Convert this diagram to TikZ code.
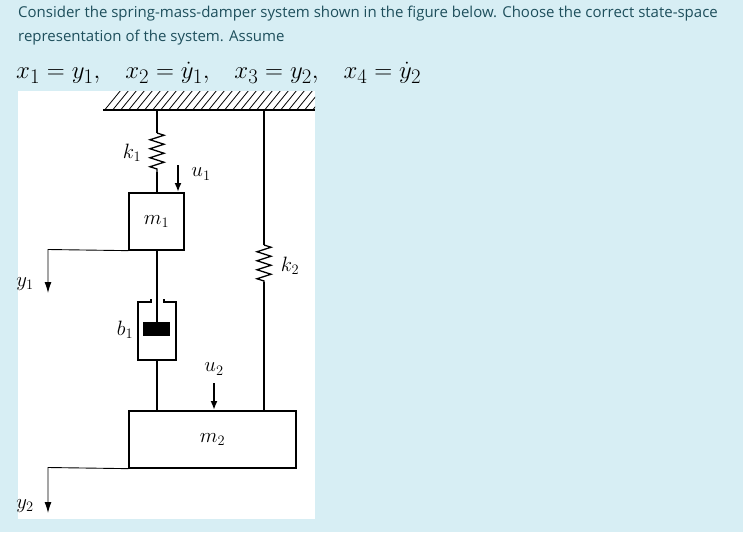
\documentclass[tikz,border=0pt]{standalone}
\usepackage{fontspec}
\setmainfont{Open Sans}
\usetikzlibrary{patterns,decorations.pathmorphing,arrows.meta}
\definecolor{bg}{HTML}{D7EEF4}
\definecolor{txt}{HTML}{1E4F5C}
\begin{document}
\begin{tikzpicture}[x=1pt,y=-1pt,
  wire/.style={line width=1.3pt},
  spring/.style={line width=1.3pt,decorate,decoration={zigzag,segment length=9pt,amplitude=7pt}},
  arr/.style={line width=2pt,-{Latex[length=9pt,width=7pt]}},
  thin/.style={line width=0.9pt,-{Latex[length=11pt,width=7pt]}},
  lab/.style={font=\fontsize{21}{21}\selectfont}]
\useasboundingbox (0,0) rectangle (743,532);
\fill[bg] (0,0) rectangle (743,532);
\fill[white] (18,91) rectangle (315,519);
\node[anchor=west,text=txt,font=\fontsize{15}{16}\selectfont,inner sep=0] (t1) at (18,14) {Consider the spring-mass-damper system shown in the figure below. Choose the correct state-space};
\node[anchor=west,text=txt,font=\fontsize{15}{16}\selectfont,inner sep=0] (t2) at (18,38) {representation of the system. Assume};
\node[anchor=west,font=\fontsize{29}{29}\selectfont,inner sep=0] (t3) at (16,73) {$x_1=y_1,\;\;\; x_2=\dot y_1,\;\;\; x_3=y_2,\;\;\; x_4=\dot y_2$};
% ceiling
\begin{scope}
\clip (103,92) rectangle (315,110);
\foreach \i in {0,8,...,230} \draw[line width=0.8pt] (103+\i,112) -- (121+\i,90);
\end{scope}
\draw[wire] (103,110) -- (315,110);
\coordinate (c1) at (157,110);
\coordinate (c2) at (264,110);
% masses
\node[draw,line width=1.3pt,minimum width=55pt,minimum height=57pt,inner sep=0,lab] (m1) at (156.5,221.5) {$m_1$};
\node[draw,line width=1.3pt,minimum width=167pt,minimum height=57pt,inner sep=0,lab] (m2) at (212.5,439.5) {$m_2$};
% k1
\coordinate (s1a) at (157,133); \coordinate (s1b) at (157,172);
\draw[wire] (c1) -- (s1a);
\draw[spring] (s1a) -- (s1b);
\draw[wire] (s1b) -- (m1.north -| s1b);
\node[lab] (k1) at (132,153) {$k_1$};
% k2
\coordinate (s2a) at (264,245); \coordinate (s2b) at (264,282);
\draw[wire] (c2) -- (s2a);
\draw[spring] (s2a) -- (s2b);
\draw[wire] (s2b) -- (m2.north -| s2b);
\node[lab] (k2) at (290,266) {$k_2$};
% u1
\coordinate (u1a) at (178,165);
\draw[arr] (u1a) -- (178,192);
\node[lab] (u1) at (201,174) {$u_1$};
% u2
\coordinate (u2a) at (214,383);
\draw[arr] (u2a) -- (214,410);
\node[lab] (u2) at (214,369) {$u_2$};
% damper
\coordinate (d0) at (157,322);
\draw[wire] (m1.south -| d0) -- (d0);
\fill (143,322) rectangle (170,336);
\draw[wire] (151,299) -- (151,302) -- (138,302) -- (138,360) -- (176,360) -- (176,302) -- (164,302) -- (164,299);
\coordinate (d1) at (157,360);
\draw[wire] (d1) -- (m2.north -| d1);
\node[lab] (b1) at (125,330) {$b_1$};
% y1, y2
\coordinate (y1e) at (48,293);
\draw[thin] (m1.south west) -- (48,249.5) -- (y1e);
\node[lab] (y1) at (25,284) {$y_1$};
\coordinate (y2e) at (48,513);
\draw[thin] (m2.south west) -- (48,467.5) -- (y2e);
\node[lab] (y2) at (25,506) {$y_2$};
\end{tikzpicture}
\end{document}
